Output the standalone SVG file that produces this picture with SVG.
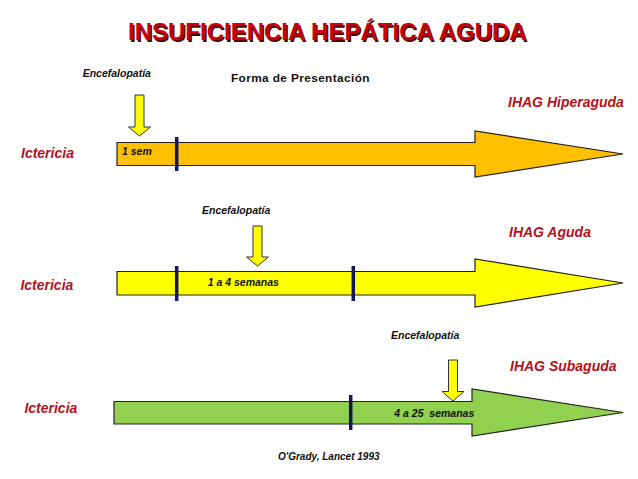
<svg xmlns="http://www.w3.org/2000/svg" width="638" height="479" viewBox="0 0 638 479">
<style>
text{font-family:"Liberation Sans",Arial,sans-serif;font-weight:bold}
.title{font-size:24px}
.lbl{font-style:italic;font-size:14px;fill:#B5121B}
.sm{font-style:italic;font-size:10.5px;fill:#111}
.ref{font-style:italic;font-size:10px;fill:#111}
.big{stroke:#222;stroke-width:1.2;stroke-linejoin:miter}
.tick{stroke:#14145A;stroke-width:3.5}
.ea{fill:#FFFF00;stroke:#333;stroke-width:1}
</style>
<rect width="638" height="479" fill="#fff"/>
<g id="title">
<text class="title" x="129.5" y="41.5" fill="#4a0000">INSUFICIENCIA HEPÁTICA AGUDA</text>
<text class="title" x="128" y="40" fill="#C8000A">INSUFICIENCIA HEPÁTICA AGUDA</text>
</g>
<text x="231" y="82" font-size="11.8" letter-spacing="0.4" fill="#111">Forma de Presentación</text>

<g id="row1">
<path class="big" fill="#FFC000" d="M117,142.5 H475 V131 L623,154 L475,177 V165.5 H117 Z"/>
<line class="tick" x1="176.7" y1="137" x2="176.7" y2="171"/>
<text class="sm" x="122" y="155">1 sem</text>
<text class="lbl" x="21" y="158">Ictericia</text>
<text class="lbl" x="508" y="107">IHAG Hiperaguda</text>
<text class="sm" x="82.7" y="76.7">Encefalopatía</text>
</g>

<g id="row2">
<path class="big" fill="#FFFF00" d="M117,271.5 H475 V259 L623,283 L475,307 V295 H117 Z"/>
<line class="tick" x1="176.7" y1="266" x2="176.7" y2="301"/>
<line class="tick" x1="353.3" y1="266" x2="353.3" y2="301"/>
<text class="sm" x="207.7" y="285.7">1 a 4 semanas</text>
<text class="lbl" x="20.4" y="290">Ictericia</text>
<text class="lbl" x="509" y="236.5">IHAG Aguda</text>
<text class="sm" x="202" y="214">Encefalopatía</text>
</g>

<g id="row3">
<path class="big" fill="#92D050" d="M114,401.5 H472 V389 L623,412.5 L472,436 V424 H114 Z"/>
<line class="tick" x1="350.7" y1="395" x2="350.7" y2="430"/>
<text class="sm" x="394.3" y="416.7" xml:space="preserve">4 a 25  semanas</text>
<text class="lbl" x="24.4" y="412.8">Ictericia</text>
<text class="lbl" x="510" y="370.5">IHAG Subaguda</text>
<text class="sm" x="391" y="338.5">Encefalopatía</text>
</g>

<g id="connectors">
<path class="ea" d="M135,95 H144 V127 H150.5 L139.5,136 L128.5,127 H135 Z"/>
<path class="ea" d="M253,226 H262 V257 H268.5 L257.5,266 L246.5,257 H253 Z"/>
<path class="ea" d="M448.5,360 H457.5 V391.5 H464 L453,401 L442,391.5 H448.5 Z"/>
</g>

<text class="ref" x="278" y="459.7">O'Grady, Lancet 1993</text>
</svg>
